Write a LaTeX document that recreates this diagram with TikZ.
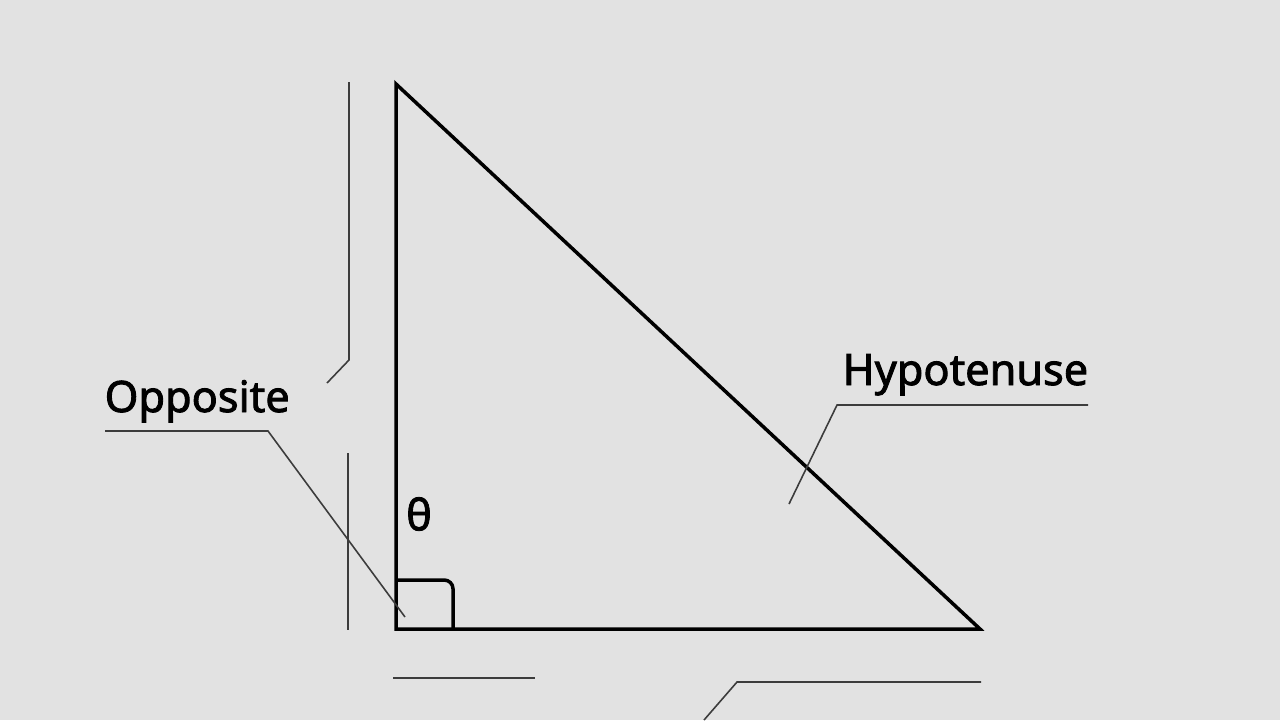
\documentclass[tikz,border=0pt]{standalone}
\usepackage{fontspec}
\setmainfont{Noto Sans}
\newfontfamily\labfont[FakeBold=2]{Noto Sans}
\usetikzlibrary{positioning}
\definecolor{paper}{HTML}{E2E2E2}
\definecolor{leadgray}{HTML}{3C3C3C}

\begin{document}
\begin{tikzpicture}[x=0.01cm, y=-0.01cm, side/.style={line width=1pt,draw=black},
		lead/.style={line width=0.45pt,draw=leadgray}, lab/.style={font=\labfont\fontsize{12.3}{14}\selectfont,inner sep=0pt}]
	\fill[paper] (0,0) rectangle (1280,720);
	% triangle
	\coordinate (top) at (396, 84);
	\coordinate (corner) at (396, 629);
	\coordinate (right) at (980, 629);
	\draw[side, line join=miter] (top) -- (corner) -- (right) -- cycle;
	\draw[side, rounded corners=2.5pt] (396,580) -- (453,580) -- (453,629);
	\node[lab] (theta) at (419, 514) {θ};
	% side marks
	\coordinate (m1a) at (349, 82);
	\coordinate (m1b) at (349, 360);
	\coordinate (m1c) at (327, 383);
	\draw[lead] (m1a) -- (m1b) -- (m1c);
	\coordinate (m2a) at (348, 453);
	\coordinate (m2b) at (348, 630);
	\draw[lead] (m2a) -- (m2b);
	\coordinate (m3a) at (393, 678);
	\coordinate (m3b) at (535, 678);
	\draw[lead] (m3a) -- (m3b);
	% labels
	\node[lab, anchor=base west] (opp) at (104, 412) {Opposite};
	\coordinate (o1) at (105, 431);
	\coordinate (o2) at (268, 431);
	\coordinate (o3) at (405, 617);
	\draw[lead] (o1) -- (o2) -- (o3);
	\node[lab, anchor=base west] (hyp) at (842, 385) {Hypotenuse};
	\coordinate (h1) at (1088, 405);
	\coordinate (h2) at (837, 405);
	\coordinate (h3) at (789, 504);
	\draw[lead] (h1) -- (h2) -- (h3);
	\coordinate (b1) at (981, 682);
	\coordinate (b2) at (737, 682);
	\coordinate (b3) at (704, 720);
	\draw[lead] (b1) -- (b2) -- (b3);
\end{tikzpicture}
\end{document}
